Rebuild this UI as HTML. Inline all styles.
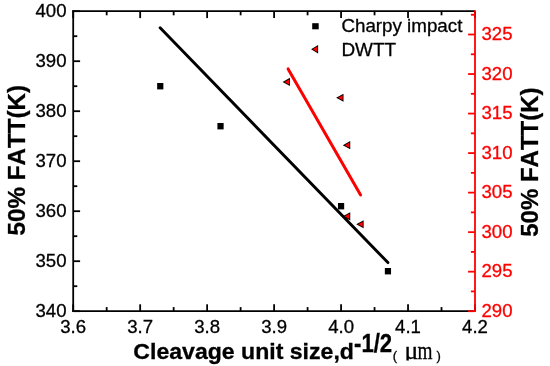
<!DOCTYPE html>
<html><head><meta charset="utf-8"><title>Chart</title>
<style>html,body{margin:0;padding:0;background:#fff;}svg{display:block;}text{font-family:"Liberation Sans",sans-serif;font-kerning:none;}text.sf{font-family:"Liberation Serif",serif;}</style>
</head><body>
<svg width="550" height="366" viewBox="0 0 550 366">
<rect width="550" height="366" fill="#fff"/>
<g stroke="#000" stroke-width="1.8" fill="none">
<line x1="73.20" y1="311.2" x2="73.20" y2="304.30"/>
<line x1="73.20" y1="11.2" x2="73.20" y2="18.10"/>
<line x1="106.68" y1="311.2" x2="106.68" y2="307.10"/>
<line x1="106.68" y1="11.2" x2="106.68" y2="15.30"/>
<line x1="140.17" y1="311.2" x2="140.17" y2="304.30"/>
<line x1="140.17" y1="11.2" x2="140.17" y2="18.10"/>
<line x1="173.65" y1="311.2" x2="173.65" y2="307.10"/>
<line x1="173.65" y1="11.2" x2="173.65" y2="15.30"/>
<line x1="207.13" y1="311.2" x2="207.13" y2="304.30"/>
<line x1="207.13" y1="11.2" x2="207.13" y2="18.10"/>
<line x1="240.62" y1="311.2" x2="240.62" y2="307.10"/>
<line x1="240.62" y1="11.2" x2="240.62" y2="15.30"/>
<line x1="274.10" y1="311.2" x2="274.10" y2="304.30"/>
<line x1="274.10" y1="11.2" x2="274.10" y2="18.10"/>
<line x1="307.58" y1="311.2" x2="307.58" y2="307.10"/>
<line x1="307.58" y1="11.2" x2="307.58" y2="15.30"/>
<line x1="341.07" y1="311.2" x2="341.07" y2="304.30"/>
<line x1="341.07" y1="11.2" x2="341.07" y2="18.10"/>
<line x1="374.55" y1="311.2" x2="374.55" y2="307.10"/>
<line x1="374.55" y1="11.2" x2="374.55" y2="15.30"/>
<line x1="408.03" y1="311.2" x2="408.03" y2="304.30"/>
<line x1="408.03" y1="11.2" x2="408.03" y2="18.10"/>
<line x1="441.52" y1="311.2" x2="441.52" y2="307.10"/>
<line x1="441.52" y1="11.2" x2="441.52" y2="15.30"/>
<line x1="475.00" y1="311.2" x2="475.00" y2="304.30"/>
<line x1="475.00" y1="11.2" x2="475.00" y2="18.10"/>
<line x1="73.2" y1="311.20" x2="80.10" y2="311.20"/>
<line x1="73.2" y1="286.20" x2="77.30" y2="286.20"/>
<line x1="73.2" y1="261.20" x2="80.10" y2="261.20"/>
<line x1="73.2" y1="236.20" x2="77.30" y2="236.20"/>
<line x1="73.2" y1="211.20" x2="80.10" y2="211.20"/>
<line x1="73.2" y1="186.20" x2="77.30" y2="186.20"/>
<line x1="73.2" y1="161.20" x2="80.10" y2="161.20"/>
<line x1="73.2" y1="136.20" x2="77.30" y2="136.20"/>
<line x1="73.2" y1="111.20" x2="80.10" y2="111.20"/>
<line x1="73.2" y1="86.20" x2="77.30" y2="86.20"/>
<line x1="73.2" y1="61.20" x2="80.10" y2="61.20"/>
<line x1="73.2" y1="36.20" x2="77.30" y2="36.20"/>
<line x1="73.2" y1="11.20" x2="80.10" y2="11.20"/>
<line x1="73.2" y1="10.299999999999999" x2="73.2" y2="312.09999999999997"/>
<line x1="72.3" y1="11.2" x2="475.0" y2="11.2"/>
<line x1="72.3" y1="311.2" x2="475.0" y2="311.2"/>
</g>
<g stroke="#f00" stroke-width="1.8" fill="none">
<line x1="475.0" y1="311.20" x2="468.10" y2="311.20"/>
<line x1="475.0" y1="291.44" x2="470.90" y2="291.44"/>
<line x1="475.0" y1="271.68" x2="468.10" y2="271.68"/>
<line x1="475.0" y1="251.91" x2="470.90" y2="251.91"/>
<line x1="475.0" y1="232.15" x2="468.10" y2="232.15"/>
<line x1="475.0" y1="212.39" x2="470.90" y2="212.39"/>
<line x1="475.0" y1="192.62" x2="468.10" y2="192.62"/>
<line x1="475.0" y1="172.86" x2="470.90" y2="172.86"/>
<line x1="475.0" y1="153.10" x2="468.10" y2="153.10"/>
<line x1="475.0" y1="133.34" x2="470.90" y2="133.34"/>
<line x1="475.0" y1="113.57" x2="468.10" y2="113.57"/>
<line x1="475.0" y1="93.81" x2="470.90" y2="93.81"/>
<line x1="475.0" y1="74.05" x2="468.10" y2="74.05"/>
<line x1="475.0" y1="54.29" x2="470.90" y2="54.29"/>
<line x1="475.0" y1="34.52" x2="468.10" y2="34.52"/>
<line x1="475.0" y1="14.76" x2="470.90" y2="14.76"/>
<line x1="475.0" y1="10.299999999999999" x2="475.0" y2="312.09999999999997"/>
</g>
<g font-size="18.6" fill="#000" stroke="#000" stroke-width="0.3">
<text x="73.20" y="332.8" text-anchor="middle">3.6</text>
<text x="140.17" y="332.8" text-anchor="middle">3.7</text>
<text x="207.13" y="332.8" text-anchor="middle">3.8</text>
<text x="274.10" y="332.8" text-anchor="middle">3.9</text>
<text x="341.07" y="332.8" text-anchor="middle">4.0</text>
<text x="408.03" y="332.8" text-anchor="middle">4.1</text>
<text x="475.00" y="332.8" text-anchor="middle">4.2</text>
<text x="66.5" y="316.90" text-anchor="end">340</text>
<text x="66.5" y="266.90" text-anchor="end">350</text>
<text x="66.5" y="216.90" text-anchor="end">360</text>
<text x="66.5" y="166.90" text-anchor="end">370</text>
<text x="66.5" y="116.90" text-anchor="end">380</text>
<text x="66.5" y="66.90" text-anchor="end">390</text>
<text x="66.5" y="16.90" text-anchor="end">400</text>
</g>
<g font-size="18.6" fill="#f00" stroke="#f00" stroke-width="0.3">
<text x="481.5" y="316.90">290</text>
<text x="481.5" y="277.38">295</text>
<text x="481.5" y="237.85">300</text>
<text x="481.5" y="198.32">305</text>
<text x="481.5" y="158.80">310</text>
<text x="481.5" y="119.27">315</text>
<text x="481.5" y="79.75">320</text>
<text x="481.5" y="40.22">325</text>
</g>
<line x1="160.1" y1="27.8" x2="387.9" y2="262.6" stroke="#000" stroke-width="2.9" stroke-linecap="round"/>
<line x1="288.1" y1="68.9" x2="360.6" y2="195" stroke="#f00" stroke-width="3.0" stroke-linecap="round"/>
<rect x="157.16" y="83.00" width="6.2" height="6.4" fill="#000"/>
<rect x="217.43" y="123.00" width="6.2" height="6.4" fill="#000"/>
<rect x="337.97" y="203.00" width="6.2" height="6.4" fill="#000"/>
<rect x="384.84" y="268.00" width="6.2" height="6.4" fill="#000"/>
<polygon points="282.56,81.95 289.96,77.85 289.96,86.05" fill="#000"/><polygon points="284.42,81.95 289.06,79.38 289.06,84.53" fill="#f00"/>
<polygon points="336.13,97.76 343.53,93.66 343.53,101.86" fill="#000"/><polygon points="337.99,97.76 342.63,95.19 342.63,100.34" fill="#f00"/>
<polygon points="342.83,145.19 350.23,141.09 350.23,149.29" fill="#000"/><polygon points="344.69,145.19 349.33,142.62 349.33,147.77" fill="#f00"/>
<polygon points="342.83,216.34 350.23,212.24 350.23,220.44" fill="#000"/><polygon points="344.69,216.34 349.33,213.77 349.33,218.91" fill="#f00"/>
<polygon points="356.22,224.25 363.62,220.15 363.62,228.34" fill="#000"/><polygon points="358.08,224.25 362.72,221.67 362.72,226.82" fill="#f00"/>
<rect x="312.2" y="23.2" width="6.5" height="6.1" fill="#000"/>
<polygon points="311.10,49.30 318.10,45.00 318.10,53.60" fill="#000"/><polygon points="312.73,49.30 317.25,46.52 317.25,52.08" fill="#f00"/>
<text x="341.4" y="31.9" font-size="18.6" fill="#000" stroke="#000" stroke-width="0.3" textLength="121" lengthAdjust="spacingAndGlyphs">Charpy impact</text>
<text x="341.4" y="56" font-size="18.6" fill="#000" stroke="#000" stroke-width="0.3" textLength="54.6" lengthAdjust="spacingAndGlyphs">DWTT</text>
<g font-weight="bold" fill="#000" stroke="#000" stroke-width="0.3">
<text x="133.3" y="358.8" font-size="22.6" textLength="220.6" lengthAdjust="spacingAndGlyphs">Cleavage unit size,d</text>
<text x="354.0" y="352.0" font-size="25" textLength="38.2" lengthAdjust="spacingAndGlyphs">-1/2</text>
</g>
<g fill="#000" stroke="#000" stroke-width="0.35">
<text x="392.8" y="359.7" font-size="13">(</text>
<clipPath id="mc"><rect x="400" y="335" width="20" height="25.6"/></clipPath>
<text x="404.6" y="358.8" font-size="26" class="sf" textLength="13.8" lengthAdjust="spacingAndGlyphs" clip-path="url(#mc)">μ</text>
<text x="417.5" y="358.8" font-size="26" class="sf" textLength="15" lengthAdjust="spacingAndGlyphs">m</text>
<text x="436.6" y="359.7" font-size="13">)</text>
</g>
<text transform="translate(24.8,160.2) rotate(-90)" text-anchor="middle" font-size="24" textLength="150.7" lengthAdjust="spacingAndGlyphs" font-weight="bold" fill="#000" stroke="#000" stroke-width="0.3">50% FATT(K)</text>
<text transform="translate(538.3,162.1) rotate(-90)" text-anchor="middle" font-size="24" font-weight="bold" fill="#000" stroke="#000" stroke-width="0.3">50% FATT(K)</text>
</svg></body></html>
